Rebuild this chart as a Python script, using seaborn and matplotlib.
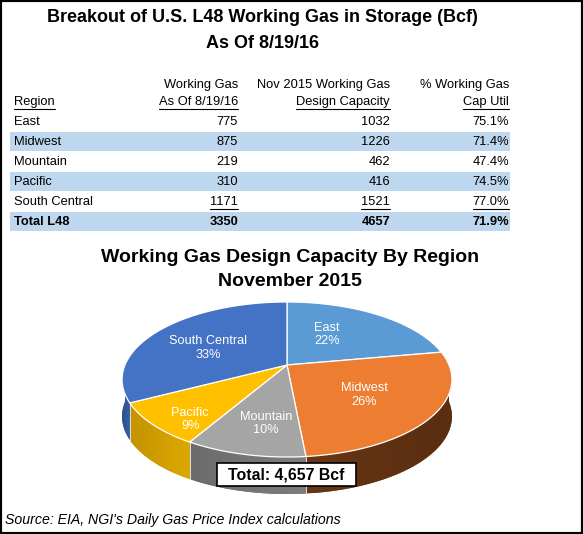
import numpy as np
import matplotlib
matplotlib.use("Agg")
import matplotlib.pyplot as plt
from matplotlib.patches import Polygon, Rectangle
from matplotlib.colors import LinearSegmentedColormap
import seaborn as sns

# ---------------- data ----------------
regions = ["East", "Midwest", "Mountain", "Pacific", "South Central"]
working_gas = [775, 875, 219, 310, 1171]
design_capacity = [1032, 1226, 462, 416, 1521]
cap_util = [75.1, 71.4, 47.4, 74.5, 77.0]
total_label = "Total L48"
total_working_gas = 3350
total_capacity = 4657
total_util = 71.9

top_colors = ["#5B9BD5", "#ED7D31", "#A5A5A5", "#FFC000", "#4472C4"]
side_colors_left = ["#3F6F9E", "#673614", "#6B6B6B", "#C49300", "#2C4F8C"]
side_colors_right = ["#3F6F9E", "#5A2E11", "#7E7E7E", "#DCA900", "#3760A6"]
label_r = [0.52, 0.58, 0.69, 0.83, 0.56]
label_dang = [9, -3, 3, 7, 6]

sns.set_theme(style="white")
plt.rcParams["font.family"] = ["Liberation Sans", "DejaVu Sans"]
plt.rcParams["text.color"] = "black"

W, H = 583, 534
fig = plt.figure(figsize=(W / 100, H / 100), dpi=100)
fig.patch.set_facecolor("white")

# ---------------- table axes (pixel coords) ----------------
ax0 = fig.add_axes([0, 0, 1, 1])
ax0.set_xlim(0, W)
ax0.set_ylim(H, 0)
ax0.axis("off")

ax0.text(262, 18, "Breakout of U.S. L48 Working Gas in Storage (Bcf)",
         ha="center", va="center", fontsize=13, fontweight="bold")
ax0.text(262, 44, "As Of 8/19/16", ha="center", va="center",
         fontsize=13, fontweight="bold")

fs = 9.3
x_reg, x_c2, x_c3, x_c4 = 14, 238, 390, 509
row_y0, row_dy = 122, 20

texts_to_underline = []
ax0.text(x_c2, 85, "Working Gas", ha="right", va="center", fontsize=fs)
ax0.text(x_c3, 85, "Nov 2015 Working Gas", ha="right", va="center", fontsize=fs)
ax0.text(x_c4, 85, "% Working Gas", ha="right", va="center", fontsize=fs)
for x, s, ha in [(x_reg, "Region", "left"), (x_c2, "As Of 8/19/16", "right"),
                 (x_c3, "Design Capacity", "right"), (x_c4, "Cap Util", "right")]:
    t = ax0.text(x, 102, s, ha=ha, va="center", fontsize=fs)
    texts_to_underline.append((t, 102 + 7))

band_color = "#BDD7EE"
nrows = len(regions)
for i in range(nrows + 1):
    y = row_y0 + row_dy * i
    if i % 2 == 1:
        ax0.add_patch(Rectangle((10, y - 10.5), 500, 19.5, facecolor=band_color,
                                edgecolor="none", zorder=0))
for i, (r, wg, dc, cu) in enumerate(zip(regions, working_gas, design_capacity, cap_util)):
    y = row_y0 + row_dy * i
    ax0.text(x_reg, y, r, ha="left", va="center", fontsize=fs)
    t2 = ax0.text(x_c2, y, f"{wg}", ha="right", va="center", fontsize=fs)
    t3 = ax0.text(x_c3, y, f"{dc}", ha="right", va="center", fontsize=fs)
    t4 = ax0.text(x_c4, y, f"{cu:.1f}%", ha="right", va="center", fontsize=fs)
    if i == nrows - 1:
        for t in (t2, t3, t4):
            texts_to_underline.append((t, y + 6.5))
yt = row_y0 + row_dy * nrows
ax0.text(x_reg, yt, total_label, ha="left", va="center", fontsize=fs, fontweight="bold")
ax0.text(x_c2, yt, f"{total_working_gas}", ha="right", va="center", fontsize=fs, fontweight="bold")
ax0.text(x_c3, yt, f"{total_capacity}", ha="right", va="center", fontsize=fs, fontweight="bold")
ax0.text(x_c4, yt, f"{total_util:.1f}%", ha="right", va="center", fontsize=fs, fontweight="bold")

# pie title
ax0.text(290, 258, "Working Gas Design Capacity By Region", ha="center", va="center",
         fontsize=14, fontweight="bold")
ax0.text(290, 282, "November 2015", ha="center", va="center",
         fontsize=14, fontweight="bold")

# source
ax0.text(5, 520, "Source: EIA, NGI's Daily Gas Price Index calculations",
         ha="left", va="center", fontsize=10.2, style="italic")

# ---------------- 3D pie axes ----------------
cx, cy = 287, 365       # apex pixel
A, B = 162, 74.8        # scale px per unit
k = 0.187               # perspective
D = 37                  # depth px
ax1 = fig.add_axes([0, 0, 1, 1])
ax1.axis("off")
ax1.patch.set_alpha(0)
d = D / B


def proj(t_deg):
    t = np.radians(t_deg)
    x, y = np.cos(t), np.sin(t)
    s = 1.0 / (1.0 + k * y)
    return x * s, y * s


vals = np.array(design_capacity, dtype=float)
frac = vals / vals.sum()
edges = 90 - 360 * np.concatenate([[0], np.cumsum(frac)])

# sides
for i in range(len(vals)):
    hi, lo = edges[i], edges[i + 1]
    a0, a1 = min(hi, 0), max(lo, -180)
    if a0 <= a1:
        continue
    ts = np.linspace(a0, a1, 80)
    u, v = proj(ts)
    pts = np.column_stack([np.concatenate([u, u[::-1]]),
                           np.concatenate([v, v[::-1] - d])])
    poly = Polygon(pts, closed=True, facecolor=side_colors_left[i], edgecolor="none", zorder=1)
    ax1.add_patch(poly)
    cmap = LinearSegmentedColormap.from_list("g", [side_colors_left[i], side_colors_right[i]])
    grad = np.linspace(0, 1, 256).reshape(1, -1)
    im = ax1.imshow(grad, cmap=cmap, aspect="auto",
                    extent=[u.min(), u.max(), v.min() - d, v.max()], zorder=2)
    im.set_clip_path(poly)
    for ta in (a0, a1):
        if -180 < ta < 0:
            uu, vv = proj(np.array([ta]))
            ax1.plot([uu[0], uu[0]], [vv[0], vv[0] - d], color="#dddddd", lw=0.7, zorder=3)

# top face
for i in range(len(vals)):
    ts = np.linspace(edges[i], edges[i + 1], 120)
    u, v = proj(ts)
    pts = np.column_stack([np.concatenate([[0], u]), np.concatenate([[0], v])])
    ax1.add_patch(Polygon(pts, closed=True, facecolor=top_colors[i], edgecolor="white",
                          lw=0.9, zorder=4, joinstyle="round"))

# labels
for i in range(len(vals)):
    mid = (edges[i] + edges[i + 1]) / 2 + label_dang[i]
    t = np.radians(mid)
    x, y = label_r[i] * np.cos(t), label_r[i] * np.sin(t)
    s = 1.0 / (1.0 + k * y)
    pct = 100 * frac[i]
    ax1.text(x * s, y * s, f"{regions[i]}\n{pct:.0f}%", ha="center", va="center",
             color="white", fontsize=9.2, zorder=6, linespacing=1.15)

ax1.set_xlim(-cx / A, (W - cx) / A)
ax1.set_ylim(-(H - cy) / B, cy / B)

# total box
ax0.add_patch(Rectangle((216.5, 462.5), 139.5, 23.5, facecolor="white",
                        edgecolor="black", lw=1.2, zorder=10))
ax0.set_zorder(ax1.get_zorder() + 1)
ax0.patch.set_alpha(0)
ax0.text(286, 474.5, "Total: 4,657 Bcf", ha="center", va="center", fontsize=11.4,
         fontweight="bold", zorder=11)

# underlines
fig.canvas.draw()
rend = fig.canvas.get_renderer()
inv = ax0.transData.inverted()
for t, yline in texts_to_underline:
    bb = t.get_window_extent(rend)
    (x0, _), (x1, _) = inv.transform([[bb.x0, bb.y0], [bb.x1, bb.y1]])
    ax0.plot([x0, x1], [yline, yline], color="black", lw=0.8, zorder=5)

# border
fig.patches.append(Rectangle((0, 0), 1, 1, transform=fig.transFigure, fill=False,
                             edgecolor="black", lw=3, zorder=100))

fig.savefig("out.png", dpi=100)
